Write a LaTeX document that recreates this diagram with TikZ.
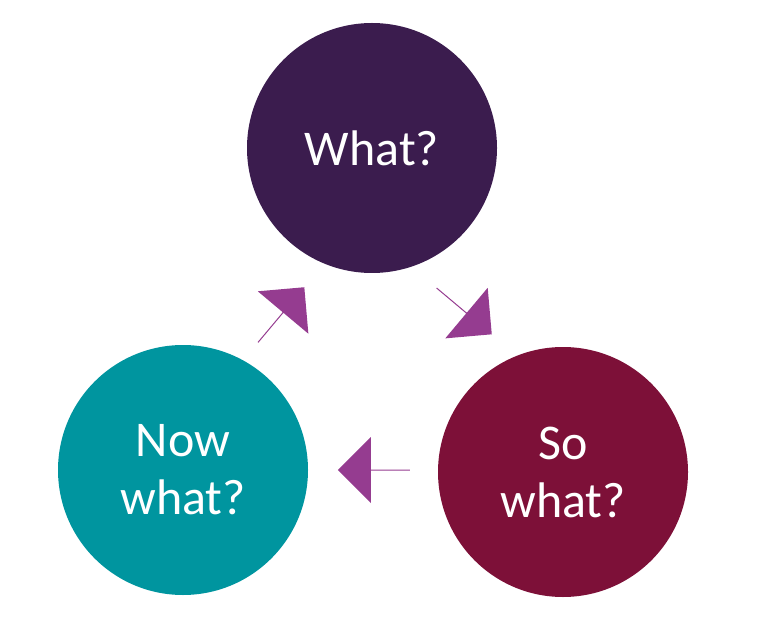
\documentclass[tikz,border=0pt]{standalone}
\usepackage{fontspec}
\setmainfont{Carlito}
\usetikzlibrary{shapes.arrows}
\definecolor{cA}{HTML}{3B1C4E}
\definecolor{cB}{HTML}{7D1038}
\definecolor{cC}{HTML}{00959F}
\definecolor{cArr}{HTML}{953C90}
\tikzset{
  bub/.style={circle,minimum size=250pt,inner sep=0pt,text=white,align=center,font=\fontsize{50}{58}\selectfont},
  barr/.style={single arrow,fill=cArr,minimum height=72pt,minimum width=66pt,single arrow head extend=13pt,inner sep=0pt}
}
\begin{document}
\begin{tikzpicture}[x=1pt,y=-1pt]
\useasboundingbox (0,0) rectangle (768,644);
\node[bub,fill=cA] (what) at (372,148) {What?};
\node[bub,fill=cB] (so) at (563,472) {So\\what?};
\node[bub,fill=cC] (now) at (183,470) {Now\\what?};
\node[barr,rotate=-40] (a1) at (464,311) {};
\node[barr,rotate=180] (a2) at (374,470) {};
\node[barr,rotate=50] (a3) at (281,315) {};
\end{tikzpicture}
\end{document}
